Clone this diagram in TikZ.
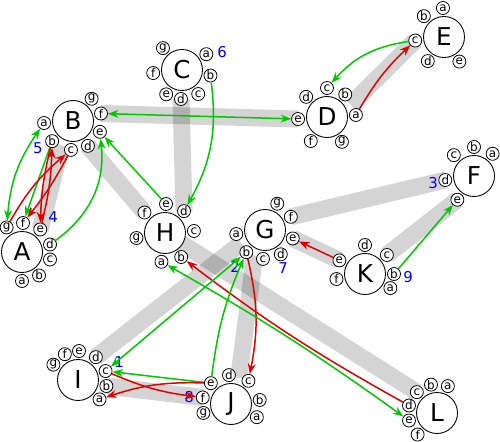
\documentclass[tikz,border=0pt]{standalone}
\usepackage{fontspec}
\setmainfont{DejaVu Sans}
\usetikzlibrary{calc,arrows.meta,backgrounds}

\definecolor{linkgreen}{RGB}{0,200,0}
\definecolor{linkred}{RGB}{225,0,0}

\tikzset{
  big/.style={circle, draw, fill=white, line width=0.5pt, minimum size=0.82cm, inner sep=0pt, font=\fontsize{14}{14}\selectfont},
  port/.style={circle, draw, fill=white, line width=0.45pt, minimum size=0.26cm, inner sep=0pt, font=\fontsize{6.8}{6.8}\selectfont},
  band/.style={line width=0.34cm, black, opacity=0.17},
  gr/.style={linkgreen, line width=0.85pt},
  rd/.style={linkred, line width=0.85pt},
  num/.style={blue, font=\fontsize{8.5}{8.5}\selectfont, inner sep=0pt},
  >={Stealth[length=6pt,width=4.5pt]}
}
\newcommand\ports[2]{\foreach \pn/\pa in {#2} \node[port] (#1-\pn) at ($(#1)+(\pa:0.58cm)$) {\pn};}

\begin{document}
\begin{tikzpicture}[x=0.02cm, y=-0.02cm]
      \useasboundingbox (0,0) rectangle (500,442);
      % main nodes
      \node[big] (A) at (22,252) {A};
      \node[big] (B) at (73,121) {B};
      \node[big] (C) at (182,70) {C};
      \node[big] (D) at (327,117) {D};
      \node[big] (E) at (444,37) {E};
      \node[big] (F) at (474,176) {F};
      \node[big] (G) at (265,230) {G};
      \node[big] (H) at (165,233) {H};
      \node[big] (I) at (78,380) {I};
      \node[big] (J) at (231,404) {J};
      \node[big] (K) at (365,274) {K};
      \node[big] (L) at (437,413) {L};
      % ports
      \ports{A}{a/270, b/306, c/345, d/15, e/51, f/88, g/122}
      \ports{B}{a/184, b/224, c/266, d/301, e/338, f/15, g/50}
      \ports{C}{a/33, b/349, c/304, d/268, e/237, f/186, g/131}
      \ports{D}{a/4, b/51, c/90, d/136, e/184, f/236, g/301}
      \ports{E}{a/92, b/134, c/187, d/236, e/302}
      \ports{F}{a/50, b/90, c/134, d/188, e/235}
      \ports{G}{a/188, b/230, c/266, d/303, e/343, f/27, g/65}
      \ports{H}{a/263, b/304, c/4, d/49, e/88, f/135, g/190}
      \ports{I}{a/318, b/348, c/18, d/52, e/88, f/117, g/148}
      \ports{J}{a/333, b/8, c/53, d/94, e/134, f/167, g/198}
      \ports{K}{a/331, b/0, c/41, d/90, e/152, f/190}
      \ports{L}{a/68, b/102, c/134, d/165, e/195, f/228}
      % grey bands
      \begin{scope}[on background layer]
      \draw[band] (A-e.center) -- ($(B-b)!0.5!(B-c)$);
      \draw[band] (B-f.center) -- (D-e.center);
      \draw[band] (B-d.center) -- (H-f.center);
      \draw[band] (C-d.center) -- (H-d.center);
      \draw[band] ($(D-a)!0.5!(D-b)$) -- (E-c.center);
      \draw[band] (G-f.center) -- (F-d.center);
      \draw[band] (K-c.center) -- (F-e.center);
      \draw[band] (G-e.center) -- (K-e.center);
      \draw[band] (H.center) -- (L-c.center);
      \draw[band] (I-d.center) -- ($(G-a)!0.5!(G-b)$);
      \draw[band] ($(J-d)!0.5!(J-c)$) -- ($(G-b)!0.5!(G-c)$);
      \draw[band] (I-b.center) -- (J-f.center);
      \end{scope}
      % numbers
      \node[num] (n1) at (119,362) {1};
      \node[num] (n2) at (235,267) {2};
      \node[num] (n3) at (433,183) {3};
      \node[num] (n4) at (53,217) {4};
      \node[num] (n5) at (38,148) {5};
      \node[num] (n6) at (222,52) {6};
      \node[num] (n7) at (283,268) {7};
      \node[num] (n8) at (189,397) {8};
      \node[num] (n9) at (408,277) {9};
      % links
      \draw[gr,<->] (B-a) to[bend right=15] (A-g);
      \draw[gr,->] (B-b) -- (A-f);
      \draw[rd,->] (A-g) to[bend left=10] (B-c);
      \draw[rd,->] (B-c) to[bend left=5] (A-f);
      \draw[rd,->] (B-b) to[bend right=6] (A-e);
      \draw[rd,->] (A-e) to[bend right=6] (B-b);
      \draw[gr,->] (A-d) to[bend right=30] (B-e);
      \draw[gr,<->] (D-e) -- (B-f);
      \draw[gr,->] (H-e) -- (B-e);
      \draw[gr,->] (C-b) to[bend left=18] (H-d);
      \draw[gr,->] (E-c) to[bend right=20] (D-c);
      \draw[rd,->] (D-a) to[bend left=8] (E-c);
      \draw[gr,->] (K-b) -- (F-e);
      \draw[rd,->] (K-e) -- (G-e);
      \draw[rd,->] (G-b) to[bend left=12] (J-c);
      \draw[rd,->] (L-d) to[bend left=4] (H-b);
      \draw[gr,<->] (H-a) to[bend left=3] (L-e);
      \draw[gr,<->] (I-c) -- (G-b);
      \draw[gr,->] (J-e) to[bend left=8] (G-b);
      \draw[gr,->] (J-e) -- (I-c);
      \draw[rd,->] (J-e) to[bend right=10] (I-a);
      \draw[rd,->] (I-c) to[bend right=8] (J-f);
\end{tikzpicture}
\end{document}
